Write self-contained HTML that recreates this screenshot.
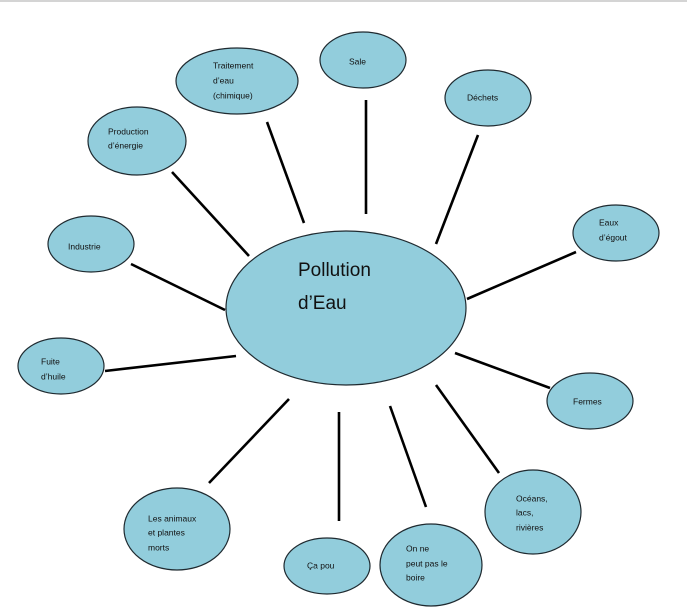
<!DOCTYPE html>
<html><head><meta charset="utf-8"><style>
html,body{margin:0;padding:0;background:#fff;width:687px;height:611px;overflow:hidden}
svg{display:block}
text{font-family:"Liberation Sans",sans-serif;font-size:8.5px;fill:#111;dominant-baseline:middle}
</style></head><body>
<svg width="687" height="611" viewBox="0 0 687 611">
<rect x="0" y="0" width="687" height="2" fill="#d4d4d4"/>
<g stroke="#000" stroke-width="2.6" stroke-linecap="butt">
<line x1="172" y1="172" x2="249" y2="256"/>
<line x1="267" y1="122" x2="304" y2="223"/>
<line x1="366" y1="100" x2="366" y2="214"/>
<line x1="478" y1="135" x2="436" y2="244"/>
<line x1="576" y1="252" x2="467" y2="299"/>
<line x1="131" y1="264" x2="225" y2="310"/>
<line x1="105" y1="371" x2="236" y2="356"/>
<line x1="455" y1="353" x2="550" y2="388"/>
<line x1="289" y1="399" x2="209" y2="483"/>
<line x1="339" y1="412" x2="339" y2="521"/>
<line x1="390" y1="406" x2="426" y2="507"/>
<line x1="436" y1="385" x2="499" y2="473"/>
</g>
<g fill="#92cddc" stroke="#1f2a30" stroke-width="1.2">
<ellipse cx="346" cy="308" rx="120" ry="77"/>
<ellipse cx="237" cy="81" rx="61" ry="33"/>
<ellipse cx="363" cy="60" rx="43" ry="28"/>
<ellipse cx="488" cy="98" rx="43" ry="28"/>
<ellipse cx="137" cy="141" rx="49" ry="34"/>
<ellipse cx="91" cy="244" rx="43" ry="28"/>
<ellipse cx="616" cy="233" rx="43" ry="28"/>
<ellipse cx="61" cy="366" rx="43" ry="28"/>
<ellipse cx="590" cy="401" rx="43" ry="28"/>
<ellipse cx="177" cy="529" rx="53" ry="41"/>
<ellipse cx="327" cy="566" rx="43" ry="28"/>
<ellipse cx="431" cy="565" rx="51" ry="41"/>
<ellipse cx="533" cy="512" rx="48" ry="42"/>
</g>
<text x="298" y="271" style="font-size:19px">Pollution</text>
<text x="298" y="304" style="font-size:19px">d’Eau</text>
<text x="213" y="66">Traitement</text><text x="213" y="81">d’eau</text><text x="213" y="96">(chimique)</text>
<text x="349" y="62">Sale</text>
<text x="467" y="98">Déchets</text>
<text x="108" y="132">Production</text><text x="108" y="146">d’énergie</text>
<text x="68" y="247">Industrie</text>
<text x="599" y="223">Eaux</text><text x="599" y="238">d’égout</text>
<text x="41" y="362">Fuite</text><text x="41" y="377">d’huile</text>
<text x="573" y="402">Fermes</text>
<text x="148" y="519">Les animaux</text><text x="148" y="533">et plantes</text><text x="148" y="548">morts</text>
<text x="307" y="566">Ça pou</text>
<text x="406" y="549">On ne</text><text x="406" y="564">peut pas le</text><text x="406" y="578">boire</text>
<text x="516" y="499">Océans,</text><text x="516" y="513">lacs,</text><text x="516" y="528">rivières</text>
</svg>
</body></html>
